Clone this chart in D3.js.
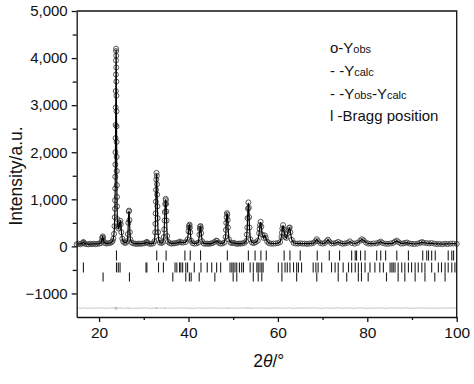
<!DOCTYPE html>
<html>
<head>
<meta charset="utf-8">
<script src="https://cdn.jsdelivr.net/npm/d3@7"></script>
<style>
  body { margin: 0; background: #fff; }
  svg { display: block; }
  text { font-family: "Liberation Sans", Arial, Helvetica, sans-serif; fill: #111; }
</style>
</head>
<body>
<svg id="chart" width="474" height="384"></svg>
<script>
// Data
// -----------------------

// [2theta, Yobs, Ycalc]
var profile = [
  [15.0,45,50],[15.4,58,51],[15.8,44,52],[16.2,62,58],[16.4,80,76],[16.5,92,88],[16.6,80,80],[16.8,56,58],
  [17.2,48,52],[17.6,42,50],[18.0,56,50],[18.4,46,51],[18.8,57,52],[19.2,47,52],[19.6,55,54],[20.0,60,58],
  [20.4,68,70],[20.6,112,115],[20.7,178,176],[20.8,212,205],[20.9,188,185],[21.0,118,120],[21.2,74,78],
  [21.6,60,64],[22.0,68,66],[22.4,70,72],[22.8,88,86],[23.0,112,110],[23.2,165,160],[23.35,265,270],
  [23.45,430,440],[23.52,620,640],[23.55,800,790],[23.58,980,1000],[23.61,1230,1220],[23.63,1480,1450],
  [23.65,1740,1720],[23.67,2000,1980],[23.69,2300,2290],[23.71,2580,2600],[23.73,2950,2940],[23.75,3300,3280],
  [23.77,3650,3640],[23.79,3950,3980],[23.81,4150,4140],[23.82,4200,4180],[23.835,4050,4060],[23.85,3800,3820],
  [23.865,3500,3510],[23.88,3200,3180],[23.895,2870,2880],[23.91,2550,2580],[23.925,2220,2230],[23.94,1900,1920],
  [23.96,1600,1590],[23.98,1300,1280],[24.005,1050,1060],[24.03,850,860],[24.09,580,570],[24.18,430,440],
  [24.32,380,385],[24.48,420,415],[24.62,500,505],[24.74,545,530],[24.86,470,480],[25.0,300,310],[25.2,165,160],
  [25.4,100,105],[25.7,78,82],[26.0,76,78],[26.3,112,108],[26.45,260,250],[26.55,500,510],[26.64,740,730],
  [26.72,760,755],[26.8,560,570],[26.9,300,310],[27.0,150,155],[27.3,80,84],[27.7,62,66],[28.1,58,60],
  [28.5,52,57],[28.9,60,57],[29.3,53,57],[29.7,61,58],[30.1,63,62],[30.5,82,80],[30.7,96,92],[30.9,74,76],
  [31.3,56,60],[31.7,54,58],[32.1,64,64],[32.4,112,115],[32.55,300,310],[32.6,480,490],[32.65,700,690],
  [32.7,950,960],[32.75,1200,1220],[32.8,1420,1410],[32.85,1560,1540],[32.92,1500,1510],[32.96,1320,1310],
  [33.0,1100,1090],[33.05,850,860],[33.1,600,610],[33.2,300,295],[33.35,140,145],
  [33.6,80,82],[34.0,70,72],[34.3,92,90],[34.5,200,205],[34.58,360,370],[34.65,550,540],[34.72,730,720],
  [34.8,900,910],[34.9,1010,1000],[34.95,980,970],[35.0,900,905],[35.05,740,750],[35.1,550,560],[35.25,220,215],
  [35.45,100,104],[35.8,70,72],[36.2,58,62],[36.6,64,63],
  [37.0,66,66],[37.4,76,74],[37.8,86,84],[38.1,102,98],[38.4,84,86],[38.8,80,80],[39.4,92,90],[39.8,150,155],
  [40.0,320,310],[40.1,400,405],[40.15,440,445],[40.25,462,455],[40.32,400,395],[40.4,300,310],[40.6,120,125],
  [40.9,70,74],[41.3,58,62],
  [41.8,64,64],[42.2,80,82],[42.45,250,245],[42.55,370,365],[42.6,420,425],[42.7,432,428],[42.78,380,370],
  [42.85,280,285],[43.05,110,112],
  [43.4,62,64],[43.8,54,58],[44.2,60,58],[44.6,55,58],[45.0,62,60],[45.4,70,70],[45.8,92,90],[46.2,122,118],
  [46.4,115,116],[46.8,74,78],[47.2,58,62],[47.6,64,64],[48.0,80,82],[48.3,200,205],[48.38,350,345],
  [48.45,500,490],[48.53,620,615],[48.6,705,700],[48.7,680,690],[48.78,560,550],[48.85,400,395],[49.05,150,155],
  [49.4,80,82],[49.8,70,72],[50.1,76,74],
  [50.5,62,64],[50.9,54,58],[51.3,60,58],[51.7,58,60],[52.1,67,66],[52.5,74,75],[52.9,112,110],
  [53.05,250,245],[53.15,400,410],[53.22,600,590],[53.3,800,790],[53.4,935,925],[53.5,820,830],[53.57,620,610],
  [53.65,400,395],[53.85,150,155],[54.2,80,82],
  [54.6,70,72],[55.0,86,84],[55.5,120,122],[55.8,280,275],[55.9,370,365],[56.0,450,455],[56.15,522,515],
  [56.3,420,425],[56.5,250,255],[56.8,180,182],[57.1,232,228],[57.3,180,182],[57.6,100,104],[58.0,70,72],
  [58.5,58,62],
  [59.0,60,60],[59.5,62,62],[60.0,70,70],[60.5,92,90],[60.8,200,205],[60.9,290,285],[61.0,380,375],
  [61.15,452,448],[61.3,360,365],[61.6,200,205],[61.9,180,178],[62.2,280,285],[62.35,340,335],[62.5,390,385],
  [62.65,402,398],[62.8,300,305],[63.1,140,145],[63.5,75,78],[64.0,60,64],[64.5,58,60],[65.0,66,62],
  [65.5,58,60],[66.0,60,58],[66.5,54,57],
  [67.0,60,58],[67.5,62,62],[68.0,76,74],[68.4,110,108],[68.7,152,148],[69.0,110,112],[69.5,70,74],
  [70.0,60,64],[70.5,72,70],[70.9,110,108],[71.2,142,138],[71.5,104,106],[72.0,64,68],[72.5,62,64],
  [73.0,76,74],[73.5,96,92],[74.0,70,72],[74.5,56,60],[75.0,62,60],[75.6,76,74],[76.1,106,102],[76.6,70,72],
  [77.2,58,62],[77.8,76,74],[78.4,120,118],[78.8,152,148],[79.2,130,132],[79.7,80,82],[80.2,60,64],
  [80.8,56,58],[81.4,62,60],[82.0,64,66],[82.6,80,80],[83.0,102,98],[83.4,74,76],[84.0,56,60],[84.6,54,57],
  [85.2,62,60],[85.8,76,74],[86.2,100,102],[86.6,122,118],[87.0,90,92],[87.5,60,64],[88.0,62,62],
  [88.5,76,74],[88.9,82,80],[89.4,62,64],[90.0,54,57],[90.6,50,54],[91.2,58,58],[91.8,76,74],[92.2,92,88],
  [92.6,80,82],[93.2,70,70],[93.8,64,66],[94.4,72,70],[95.0,58,60],[95.6,50,54],[96.2,52,52],[96.8,46,50],
  [97.4,56,52],[98.0,50,52],[98.6,58,56],[99.2,60,58],[100.0,54,56]
];

// Bragg reflections (2theta), one list per phase / row
var braggPhase1 = [23.9, 32.9, 35.0, 39.2, 40.4, 42.7, 48.7, 53.4, 54.9, 56.2, 57.4, 61.4, 62.7, 65.0,
  68.8, 71.5, 73.8, 76.5, 77.3, 77.6, 78.5, 79.5, 82.1, 83.0, 84.1, 86.6, 89.2, 92.4, 93.3, 93.7, 94.4,
  95.2, 98.1, 98.9, 99.3];
var braggPhase2 = [16.5, 23.9, 24.3, 24.7, 30.5, 30.7, 33.3, 34.4, 37.0, 37.4, 38.0, 38.3, 38.7, 39.4,
  39.8, 41.3, 42.8, 44.2, 45.2, 46.3, 47.2, 49.3, 49.7, 50.0, 50.4, 50.8, 51.4, 51.9, 52.3, 53.8, 54.5,
  55.3, 55.6, 56.0, 56.4, 56.7, 60.1, 60.9, 61.6, 62.1, 62.7, 63.5, 64.2, 64.6, 65.3, 67.9, 68.5, 69.0,
  69.8, 72.0, 72.8, 73.5, 74.6, 75.8, 76.5, 77.3, 78.0, 78.7, 79.5, 80.6, 81.7, 82.8, 83.6, 85.1, 85.5,
  85.8, 86.2, 86.9, 87.7, 88.4, 89.2, 89.9, 90.7, 91.4, 92.2, 92.9, 94.4, 95.9, 96.6, 97.4, 98.1, 98.9, 99.6];
var braggPhase3 = [20.9, 26.8, 36.5, 39.4, 40.2, 40.6, 42.4, 45.9, 50.0, 50.8, 54.5, 55.6, 56.4, 60.9,
  64.2, 68.7, 73.5, 75.4, 78.0, 78.7, 80.2, 84.3, 86.9, 88.4, 90.7, 92.9, 95.1, 97.4];

var xMajor = [20, 40, 60, 80, 100];
var xMinor = [30, 50, 70, 90];
var yMajor = [-1000, 0, 1000, 2000, 3000, 4000, 5000];
var yMinor = [-500, 500, 1500, 2500, 3500, 4500];
var diffOffset = -1310;

var legendItems = [
  { mark: "o-", parts: [["Y", 15], ["obs", 11]] },
  { mark: "- -", parts: [["Y", 15], ["calc", 11]] },
  { mark: "- -", parts: [["Y", 15], ["obs", 11], ["-Y", 15], ["calc", 11]] },
  { mark: "l -", parts: [["Bragg position", 15]] }
];

// Layout
// ------
var svg = d3.select("#chart"),
    plotLeft = 76.7, plotRight = 456.7, plotTop = 11, plotBottom = 317;

var x = d3.scaleLinear().domain([15, 100]).range([plotLeft, plotRight]);
var y = d3.scaleLinear().domain([-1500, 5000]).range([plotBottom, plotTop]);

svg.append("rect").attr("width", 474).attr("height", 384).attr("fill", "#fff");

// Difference curve
svg.append("path")
    .datum(profile)
    .attr("fill", "none")
    .attr("stroke", "#c4c4c4")
    .attr("stroke-width", 1)
    .attr("d", d3.line().x(function(d) { return x(d[0]); }).y(function(d) { return y(d[1] - d[2] + diffOffset); }));

// Bragg ticks, three rows
var rows = [[braggPhase1, -85, -300], [braggPhase2, -340, -553], [braggPhase3, -553, -745]];
rows.forEach(function(r) {
  svg.append("g").selectAll("line")
    .data(r[0]).enter().append("line")
      .attr("x1", function(d) { return x(d); })
      .attr("x2", function(d) { return x(d); })
      .attr("y1", y(r[1]))
      .attr("y2", y(r[2]))
      .attr("stroke", "#1e1e1e")
      .attr("stroke-width", 1.1);
});

// Observed circles
svg.append("g").selectAll("circle")
  .data(profile).enter().append("circle")
    .attr("cx", function(d) { return x(d[0]); })
    .attr("cy", function(d) { return y(d[1]); })
    .attr("r", 2.5)
    .attr("fill", "none")
    .attr("stroke", "#444")
    .attr("stroke-width", 0.9);

// Calculated line
svg.append("path")
    .datum(profile)
    .attr("fill", "none")
    .attr("stroke", "#000")
    .attr("stroke-width", 1.2)
    .attr("d", d3.line().x(function(d) { return x(d[0]); }).y(function(d) { return y(d[2]); }));

// Axes
function yFmt(d) { return d < 0 ? "\u22121000" : d3.format(",")(d); }

var gx = svg.append("g").attr("transform", "translate(0," + plotBottom + ")")
    .call(d3.axisBottom(x).tickValues(xMajor).tickSize(5).tickSizeOuter(0).tickPadding(5).tickFormat(d3.format("d")));
svg.append("g").attr("transform", "translate(0," + plotBottom + ")")
    .call(d3.axisBottom(x).tickValues(xMinor).tickSize(3).tickSizeOuter(0).tickFormat(""))
    .select(".domain").remove();
var gy = svg.append("g").attr("transform", "translate(" + plotLeft + ",0)")
    .call(d3.axisLeft(y).tickValues(yMajor).tickSize(5).tickSizeOuter(0).tickPadding(4).tickFormat(yFmt));
svg.append("g").attr("transform", "translate(" + plotLeft + ",0)")
    .call(d3.axisLeft(y).tickValues(yMinor).tickSize(4).tickSizeOuter(0).tickFormat(""))
    .select(".domain").remove();

gx.attr("font-family", null).attr("font-size", 15.5);
gy.attr("font-family", null).attr("font-size", 15);
svg.selectAll(".tick text").attr("fill", "#111");
svg.selectAll(".domain, .tick line").attr("stroke", "#111").attr("stroke-width", 1.3);

// Frame top and right
svg.append("path")
    .attr("d", "M" + plotLeft + "," + plotTop + "H" + plotRight + "V" + plotBottom)
    .attr("fill", "none")
    .attr("stroke", "#111")
    .attr("stroke-width", 1.3);

// Axis titles
svg.append("text")
    .attr("transform", "translate(22," + ((plotTop + plotBottom) / 2 + 12) + ") rotate(-90)")
    .attr("text-anchor", "middle")
    .attr("font-size", 17.5)
    .text("Intensity/a.u.");

var xt = svg.append("text")
    .attr("x", (plotLeft + plotRight) / 2 + 2)
    .attr("y", 367)
    .attr("text-anchor", "middle")
    .attr("font-size", 17.5);
xt.append("tspan").attr("font-style", "normal").text("2");
xt.append("tspan").attr("font-style", "italic").text("\u03b8");
xt.append("tspan").attr("font-style", "normal").text("/\u00b0");

// Legend
var legend = svg.append("g").attr("transform", "translate(330,53)");
legendItems.forEach(function(item, i) {
  var t = legend.append("text").attr("y", i * 23 + (i == 3 ? -1 : 0)).attr("font-size", 15);
  t.append("tspan").text(item.mark);
  item.parts.forEach(function(p) {
    t.append("tspan").attr("font-size", p[1]).text(p[0]);
  });
});
</script>
</body>
</html>
